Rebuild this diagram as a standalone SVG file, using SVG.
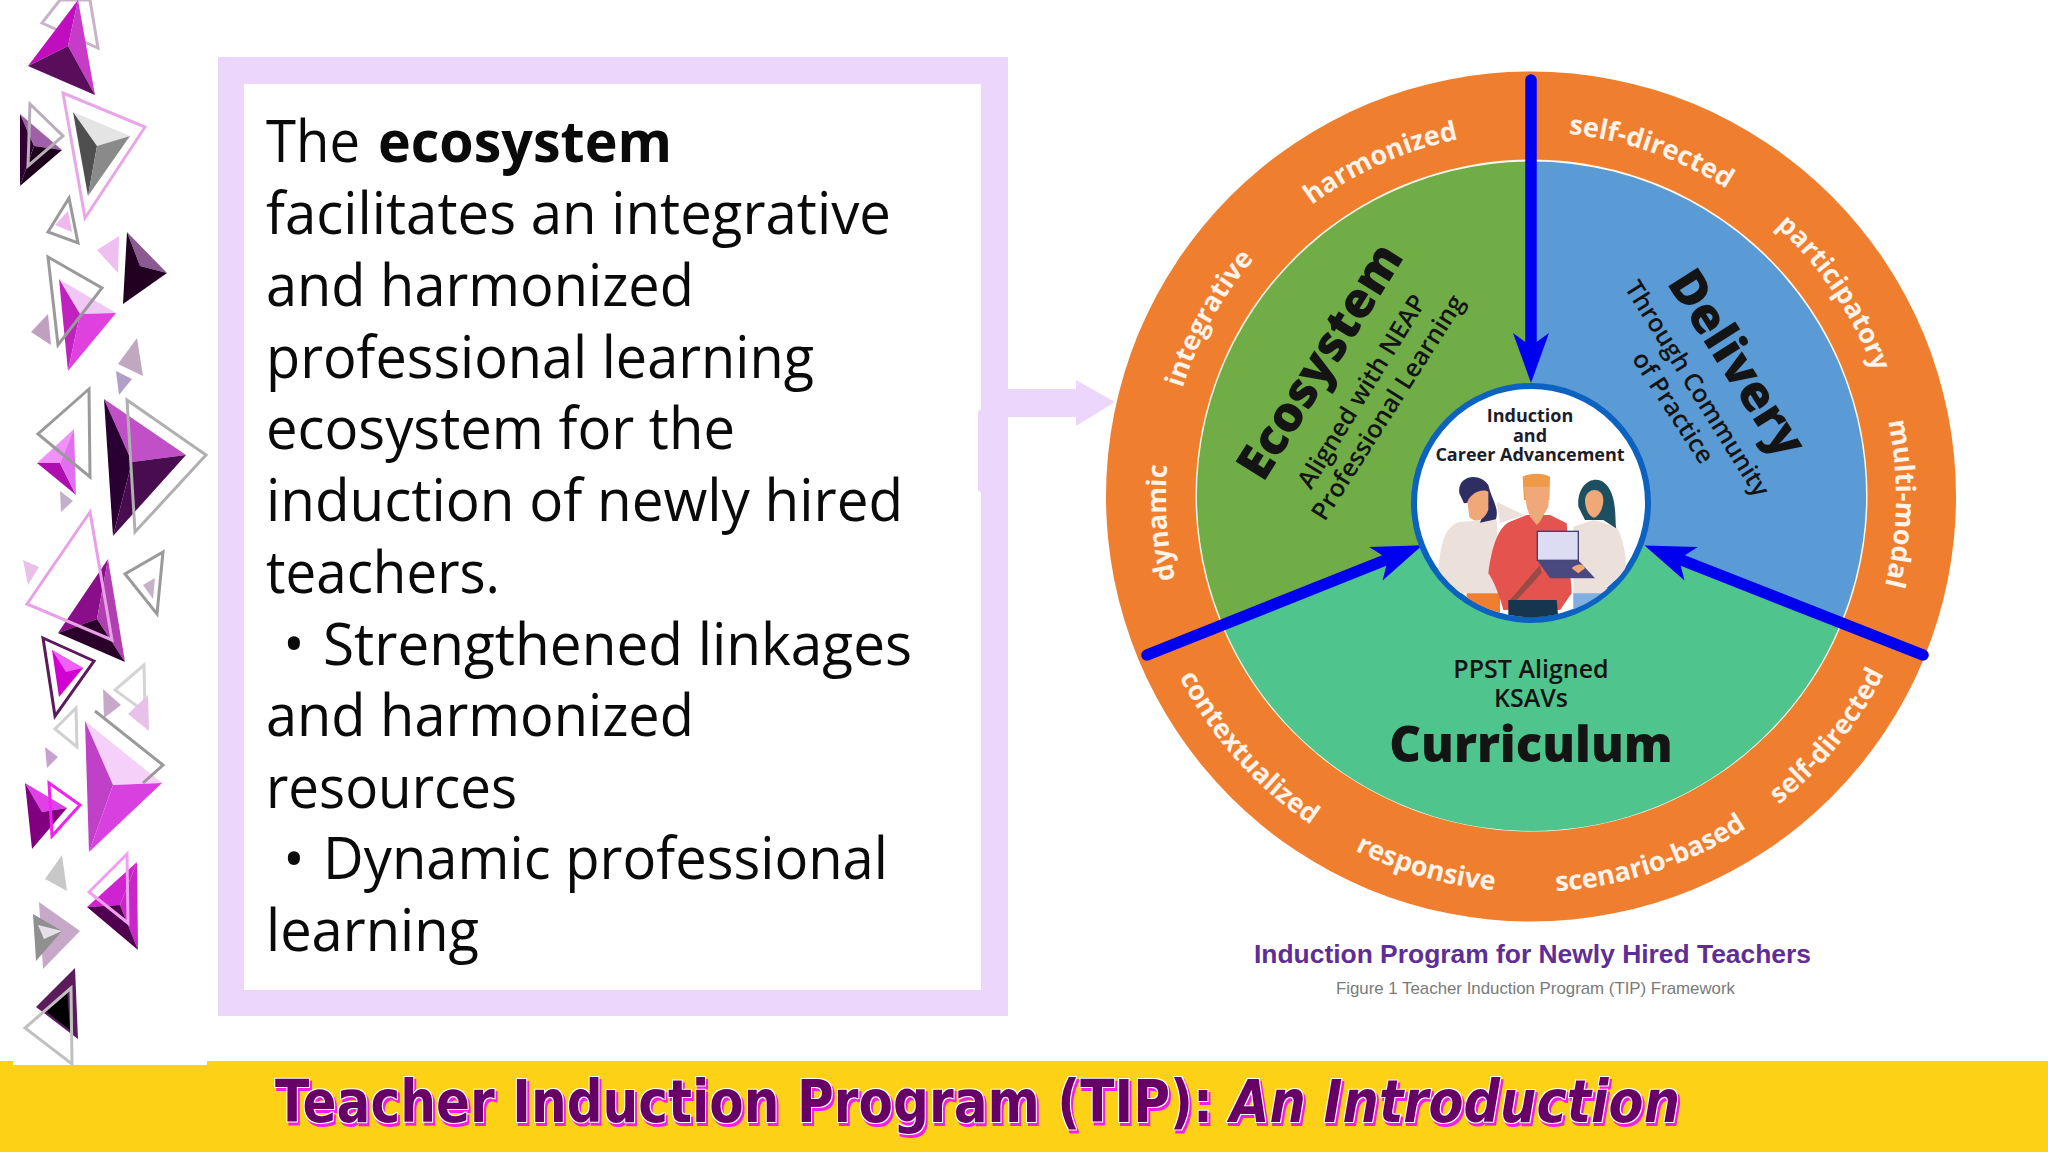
<svg xmlns="http://www.w3.org/2000/svg" width="2048" height="1152" viewBox="0 0 2048 1152">
<defs>
<style>
.body{font-family:"Open Sans","Noto Sans",sans-serif;font-size:58px;fill:#0a0a0a}
.band{font-family:"Open Sans","Noto Sans",sans-serif;font-size:27px;font-weight:700;fill:#fff2e8;text-anchor:middle}
.big{font-family:"Open Sans","Noto Sans",sans-serif;font-size:49px;font-weight:800;fill:#141414;text-anchor:middle}
.sub{font-family:"Open Sans","Noto Sans",sans-serif;font-size:25px;font-weight:600;fill:#141414;text-anchor:middle}
.hub{font-family:"Open Sans","Noto Sans",sans-serif;font-size:18px;font-weight:700;fill:#1c1c2a;text-anchor:middle}
.ttl{font-family:"DejaVu Sans",sans-serif;font-size:58px;font-weight:700;fill:#660066}
.ol{fill:none;stroke-width:3}
.lav{fill:#ecd6fb}
</style>
<marker id="head" markerUnits="userSpaceOnUse" markerWidth="60" markerHeight="40" refX="13" refY="20" orient="auto" overflow="visible">
<path d="M0,2 L50,20 L0,38 L13,20 Z" fill="#0000f0"/>
</marker>
<filter id="soft" x="-5%" y="-5%" width="110%" height="110%"><feGaussianBlur stdDeviation="0.7"/></filter>
<filter id="titleFx" x="-5%" y="-30%" width="110%" height="160%" color-interpolation-filters="sRGB">
<feMorphology in="SourceAlpha" operator="dilate" radius="1.4" result="d"/>
<feFlood flood-color="#ffffff" result="w"/>
<feComposite in="w" in2="d" operator="in" result="wo"/>
<feOffset in="d" dx="2" dy="3" result="s"/>
<feFlood flood-color="#f020e0" result="m"/>
<feComposite in="m" in2="s" operator="in" result="mo"/>
<feMerge><feMergeNode in="mo"/><feMergeNode in="wo"/><feMergeNode in="SourceGraphic"/></feMerge>
</filter>
<path id="topArc" d="M1531,862 A365,365 0 1 1 1531,132 A365,365 0 1 1 1531,862"/>
<path id="botArc" d="M1531,102 A395,395 0 1 0 1531,892 A395,395 0 1 0 1531,102"/>
<clipPath id="hubClip"><circle cx="574" cy="427" r="345"/></clipPath>
</defs>
<rect width="2048" height="1152" fill="#ffffff"/>

<g id="title-bar">
<rect x="0" y="1061" width="2048" height="91" fill="#fdd116"/>
<rect x="13" y="1061" width="194" height="4" fill="#ffffff"/>
<g filter="url(#titleFx)">
<text class="ttl" x="275" y="1122" textLength="938" lengthAdjust="spacingAndGlyphs">Teacher Induction Program (TIP):</text>
<text class="ttl" x="1230" y="1122" font-style="italic" textLength="450" lengthAdjust="spacingAndGlyphs">An Introduction</text>
</g>
</g>

<g id="decoration" filter="url(#soft)">
<polygon class="ol" stroke="#c8b4c8" points="60,0 42,23 98,48 90,0"/>
<polygon fill="#c010c0" points="78,0 28,66 68,46"/><polygon fill="#c83ac8" points="78,0 95,95 68,46"/><polygon fill="#5a0a5a" points="28,66 95,95 68,46"/>
<polygon class="ol" stroke="#e8a8e8" points="63,93 145,127 85,218"/>
<polygon fill="#e4e4e4" points="73,112 130,136 97,146"/><polygon fill="#505050" points="73,112 88,196 97,146"/><polygon fill="#8a8a8a" points="130,136 88,196 97,146"/>
<polygon fill="#a060a8" points="20,114 62,150 34,146"/><polygon fill="#1a001a" points="20,186 62,150 34,146"/><polygon fill="#300030" points="20,114 20,186 34,146"/>
<polygon class="ol" stroke="#b8aeb8" points="30,104 63,136 28,166"/>
<polygon class="ol" stroke="#9a9a9a" points="69,198 48,232 78,243"/><polygon fill="#efb8ef" points="68,211 55,225 72,232"/>
<polygon fill="#efc0ef" points="119,236 97,250 118,273"/>
<polygon fill="#8a5a90" points="127,232 167,273 140,266"/><polygon fill="#220022" points="127,232 123,304 167,273 140,266"/>
<polygon fill="#c0a0c0" points="48,314 31,332 51,345"/>
<polygon fill="#f0c8f5" points="59,279 116,313 80,314"/><polygon fill="#c020c0" points="59,279 68,371 80,314"/><polygon fill="#e040e0" points="116,313 68,371 80,314"/>
<polygon class="ol" stroke="#9a9a9a" points="48,257 102,288 58,345"/>
<polygon fill="#c0a8c0" points="137,338 118,364 143,376"/><polygon fill="#b0a0c8" points="116,371 132,379 119,395"/>
<polygon fill="#f090f8" points="74,429 37,463 60,463"/><polygon fill="#b010b0" points="37,463 76,495 60,463"/><polygon fill="#e070f0" points="74,429 76,495 60,463"/>
<polygon class="ol" stroke="#9a9a9a" points="89,389 38,434 90,477"/>
<polygon fill="#c0b0c8" points="60,491 73,501 61,512"/>
<polygon fill="#c050c8" points="104,399 186,455 132,462"/><polygon fill="#2a0030" points="104,399 113,536 132,462"/><polygon fill="#4a0a50" points="186,455 113,536 132,462"/>
<polygon class="ol" stroke="#b0b0b0" points="127,400 206,455 135,532"/>
<polygon fill="#e8c0e8" points="23,560 39,567 28,585"/>
<polygon fill="#8a0a8a" points="108,559 58,633 97,619"/><polygon fill="#b040b0" points="108,559 125,662 97,619"/><polygon fill="#2a002a" points="58,633 125,662 97,619"/>
<polygon class="ol" stroke="#e8a0e8" points="90,512 27,604 112,640"/>
<polygon class="ol" stroke="#9a9a9a" points="163,552 125,574 157,614"/><polygon fill="#c8b0c8" points="155,578 143,585 153,599"/>
<polygon class="ol" stroke="#5a1a5a" points="43,638 94,661 55,716"/><polygon fill="#d000d0" points="52,650 83,668 59,697"/><polygon fill="#f060f8" points="52,650 83,668 66,672"/>
<polygon class="ol" stroke="#d4d4d4" points="144,665 115,690 145,712"/>
<polygon fill="#c8a8c8" points="103,689 121,705 104,718"/><polygon fill="#e8c0e8" points="148,695 128,714 149,731"/>
<polygon class="ol" stroke="#d0d0d0" points="76,708 55,729 77,747"/>
<polygon fill="#f5d0f8" points="85,721 162,783 113,785"/><polygon fill="#c040c8" points="85,721 89,852 113,785"/><polygon fill="#d840e0" points="162,783 89,852 113,785"/>
<polyline class="ol" stroke="#9a9a9a" points="95,711 163,765 143,783"/>
<polygon fill="#c8a0d0" points="45,747 58,757 47,768"/>
<polygon fill="#e040e8" points="25,783 67,808 42,812"/><polygon fill="#800080" points="25,783 32,849 67,808 42,812"/>
<polygon class="ol" stroke="#f020f0" points="49,783 80,805 52,836"/>
<polygon fill="#c8c8c8" points="62,855 45,879 67,891"/>
<polygon fill="#d020d0" points="137,862 87,907 120,905"/><polygon fill="#c828c8" points="137,862 138,950 120,905"/><polygon fill="#500050" points="87,907 138,950 120,905"/>
<polygon class="ol" stroke="#f0a0f0" points="127,854 89,892 128,923"/>
<polygon fill="#c8a8c8" points="39,902 80,931 43,969"/><polygon fill="#909090" points="33,914 62,931 36,961"/><polygon fill="#e8e0e8" points="38,925 62,931 44,939"/>
<polygon fill="#5a1a5a" points="75,968 36,1007 78,1039"/><polygon fill="#000000" points="67,990 44,1010 70,1030"/>
<polygon class="ol" stroke="#c0c0c0" points="71,988 25,1028 72,1064"/>
</g>

<g id="text-panel">
<path class="lav" fill-rule="evenodd" d="M218,57 H1008 V1016 H218 Z M244,84 V990 H981 V84 Z"/>
<text class="body" x="266" y="162" textLength="94" lengthAdjust="spacingAndGlyphs">The</text>
<text class="body" x="378" y="162" font-weight="700" textLength="294" lengthAdjust="spacingAndGlyphs">ecosystem</text>
<text class="body" x="266" y="234" textLength="625" lengthAdjust="spacingAndGlyphs">facilitates an integrative</text>
<text class="body" x="266" y="306" textLength="428" lengthAdjust="spacingAndGlyphs">and harmonized</text>
<text class="body" x="266" y="378" textLength="548" lengthAdjust="spacingAndGlyphs">professional learning</text>
<text class="body" x="266" y="449" textLength="469" lengthAdjust="spacingAndGlyphs">ecosystem for the</text>
<text class="body" x="266" y="521" textLength="637" lengthAdjust="spacingAndGlyphs">induction of newly hired</text>
<text class="body" x="266" y="593" textLength="234" lengthAdjust="spacingAndGlyphs">teachers.</text>
<text class="body" x="283" y="665">•</text>
<text class="body" x="323" y="665" textLength="589" lengthAdjust="spacingAndGlyphs">Strengthened linkages</text>
<text class="body" x="266" y="736" textLength="428" lengthAdjust="spacingAndGlyphs">and harmonized</text>
<text class="body" x="266" y="808" textLength="251" lengthAdjust="spacingAndGlyphs">resources</text>
<text class="body" x="283" y="880">•</text>
<text class="body" x="323" y="879" textLength="565" lengthAdjust="spacingAndGlyphs">Dynamic professional</text>
<text class="body" x="266" y="951" textLength="213" lengthAdjust="spacingAndGlyphs">learning</text>
</g>

<g id="wheel">
<circle cx="1531" cy="496.5" r="425" fill="#ef7f2f"/>
<circle cx="1531.5" cy="495.5" r="336" fill="#fff8ec"/>
<path d="M1531,505 L1221,620 A334,334 0 0 1 1531.5,161.5 Z" fill="#70ad47"/>
<path d="M1531,505 L1531.5,161.5 A334,334 0 0 1 1842,620 Z" fill="#5b9bd5"/>
<path d="M1531,505 L1842,620 A334,334 0 0 1 1221,620 Z" fill="#4fc48c"/>
</g>
<g id="ring-labels">
<text class="band"><textPath href="#topArc" startOffset="43.28%">harmonized</textPath></text>
<text class="band"><textPath href="#topArc" startOffset="55.33%">self-directed</textPath></text>
<text class="band"><textPath href="#topArc" startOffset="65.56%">participatory</textPath></text>
<text class="band"><textPath href="#topArc" startOffset="75.28%">multi-modal</textPath></text>
<text class="band"><textPath href="#topArc" startOffset="33.06%">integrative</textPath></text>
<text class="band"><textPath href="#topArc" startOffset="23.89%">dynamic</textPath></text>
<text class="band"><textPath href="#botArc" startOffset="36.56%">contextualized</textPath></text>
<text class="band"><textPath href="#botArc" startOffset="45.58%">responsive</textPath></text>
<text class="band"><textPath href="#botArc" startOffset="55.1%">scenario-based</textPath></text>
<text class="band"><textPath href="#botArc" startOffset="64.2%">self-directed</textPath></text>
</g>
<g id="ecosystem">
<text class="big" transform="translate(1334,370) rotate(-58)">Ecosystem</text>
<text class="sub" transform="translate(1369,396) rotate(-58.5)">Aligned with NEAP</text>
<text class="sub" transform="translate(1395,412) rotate(-57.5)">Professional Learning</text>
</g>
<g id="delivery">
<text class="big" transform="translate(1723,372) rotate(57.5)">Delivery</text>
<text class="sub" transform="translate(1690,393) rotate(58)">Through Community</text>
<text class="sub" transform="translate(1666,412) rotate(57)">of Practice</text>
</g>
<g id="curriculum">
<text class="sub" x="1531" y="678">PPST Aligned</text>
<text class="sub" x="1531" y="707">KSAVs</text>
<text class="big" x="1531" y="762">Curriculum</text>
</g>

<g id="connectors">
<polygon class="lav" points="981,389 1076,389 1076,380 1115,402 1076,426 1076,417 981,417"/>
<rect class="lav" x="978" y="410" width="30" height="82" rx="3"/>
<g fill="none" stroke="#0000f0" stroke-width="11.5" stroke-linecap="round" marker-end="url(#head)">
<path d="M1531,80 L1531,346"/>
<path d="M1147,655 L1388,559"/>
<path d="M1923,655 L1679,559"/>
</g>
</g>

<g id="hub">
<circle cx="1531" cy="503" r="117" fill="#ffffff" stroke="#0b62c0" stroke-width="6"/>
<text class="hub" x="1530" y="422">Induction</text>
<text class="hub" x="1530" y="442">and</text>
<text class="hub" x="1530" y="461">Career Advancement</text>
<g transform="translate(1340,360) scale(0.33333)" clip-path="url(#hubClip)">
<g filter="url(#soft)">
<path d="M295,640 C300,560 310,500 360,485 L470,480 L480,700 L340,700 Z" fill="#ece0db"/>
<path d="M470,425 L552,465 L480,490 Z" fill="#ece0db"/>
<path d="M380,700 H480 V770 H380 Z" fill="#ef7f2f"/>
<path d="M358,400 C350,345 420,335 445,375 C455,420 478,440 468,478 L420,488 L445,420 L372,430 Z" fill="#2f2f63"/>
<path d="M382,425 C395,395 430,385 445,395 L445,450 C430,485 405,490 388,470 Z" fill="#f0a878"/>
<path d="M700,500 L760,480 L830,500 C860,560 860,620 855,640 L800,680 L810,700 L700,720 Z" fill="#ece0db"/>
<path d="M700,700 H790 L780,770 H700 Z" fill="#7fb0e0"/>
<path d="M715,440 C710,365 770,340 800,375 C830,410 825,470 828,505 L790,480 L735,480 Z" fill="#1d4f60"/>
<path d="M735,420 C738,380 790,380 790,420 C790,450 770,478 758,472 C745,465 735,445 735,420 Z" fill="#f0a878"/>
<path d="M445,640 C455,560 475,500 510,485 L560,465 L630,465 L680,490 L695,700 L660,750 L490,750 C480,710 460,660 445,640 Z" fill="#e5534f"/>
<path d="M510,720 L600,615 L605,640 L530,720 Z" fill="#9a4b45"/>
<path d="M505,720 H650 L655,775 H505 Z" fill="#16344f"/>
<path d="M548,350 C570,338 610,338 630,350 L628,420 L552,420 Z" fill="#ef9a48"/>
<path d="M552,380 H628 L625,440 L600,485 L590,495 L570,470 L560,440 Z" fill="#f0a878"/>
<rect x="592" y="514" width="123" height="87" fill="#dcdcf2" stroke="#3f3f6a" stroke-width="4"/>
<path d="M592,601 H715 L765,655 H630 Z" fill="#4a4a80"/>
<path d="M695,625 C710,610 730,610 735,625 L715,640 Z" fill="#f0a878"/>
</g>
</g>
</g>

<g id="caption">
<text x="1254" y="963" font-family="Liberation Sans, Arial, sans-serif" font-weight="700" font-size="26" fill="#5f2d96" textLength="557" lengthAdjust="spacingAndGlyphs">Induction Program for Newly Hired Teachers</text>
<text x="1336" y="994" font-family="Liberation Sans, Arial, sans-serif" font-size="17" fill="#7a7a7a" textLength="399" lengthAdjust="spacingAndGlyphs">Figure 1 Teacher Induction Program (TIP) Framework</text>
</g>
</svg>
